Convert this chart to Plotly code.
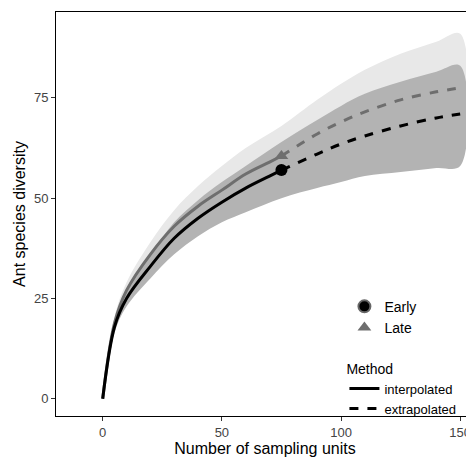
import plotly.graph_objects as go

x_int = [0, 5, 10, 20, 30, 40, 50, 60, 70, 75]
x_ext = [75, 90, 100, 110, 125, 140, 150]
early_int = [0, 18, 25, 33, 40, 45, 49, 52.5, 55.5, 57]
early_ext = [57, 61, 63.5, 65.5, 68, 70, 71]
late_int = [0, 19, 27, 36, 43, 48, 52, 56, 59, 60.5]
late_ext = [60.5, 66, 69, 71.5, 74.5, 76.5, 77.5]
x_band = [0, 5, 10, 20, 30, 40, 50, 60, 75, 90, 100, 110, 125, 140, 150]
early_lo = [0, 16.5, 23, 30, 36, 40.5, 44, 46.5, 50, 52.5, 54, 55.5, 56.5, 57.5, 58]
early_hi = [0, 19.5, 27, 36, 44, 49.5, 54, 58, 64, 69.5, 73, 76, 79, 81.5, 83]
late_lo = [0, 17.5, 25, 33, 39.5, 44, 47.5, 50.5, 54, 57, 59, 60.5, 62, 63.5, 64]
late_hi = [0, 20.5, 29, 39, 47, 53, 58, 62.5, 68, 74.5, 78.5, 82, 86, 89, 91]

fig = go.Figure()
def band(lo, hi, color):
    fig.add_trace(go.Scatter(x=x_band + x_band[::-1], y=hi + lo[::-1], fill="toself",
                             fillcolor=color, line=dict(width=0, shape="spline"), showlegend=False, hoverinfo="skip"))
band(late_lo, late_hi, "#e8e8e8")
band(early_lo, early_hi, "#b3b3b3")
for name, yi, ye, col, sym in [("Late", late_int, late_ext, "#6e6e6e", "triangle-up"),
                               ("Early", early_int, early_ext, "black", "circle")]:
    fig.add_trace(go.Scatter(x=x_int, y=yi, mode="lines", line=dict(color=col, width=3, shape="spline"), showlegend=False))
    fig.add_trace(go.Scatter(x=x_ext, y=ye, mode="lines", line=dict(color=col, width=3, dash="dash", shape="spline"), showlegend=False))
    fig.add_trace(go.Scatter(x=[75], y=[yi[-1]], mode="markers", marker=dict(color=col, size=12, symbol=sym), showlegend=False))

fig.add_trace(go.Scatter(x=[None], y=[None], mode="markers", name="Early", legend="legend",
                         marker=dict(color="black", size=11, symbol="circle", line=dict(color="#666", width=1))))
fig.add_trace(go.Scatter(x=[None], y=[None], mode="markers", name="Late", legend="legend",
                         marker=dict(color="#6e6e6e", size=11, symbol="triangle-up")))
fig.add_trace(go.Scatter(x=[None], y=[None], mode="lines", name="interpolated", legend="legend2",
                         line=dict(color="black", width=3)))
fig.add_trace(go.Scatter(x=[None], y=[None], mode="lines", name="extrapolated", legend="legend2",
                         line=dict(color="black", width=3, dash="dash")))

axis = dict(showgrid=False, zeroline=False, showline=True, linecolor="black", linewidth=1, mirror=True,
            ticks="outside", ticklen=4, tickcolor="#333", tickfont=dict(size=13, color="#444"))
fig.update_layout(
    width=474, height=464, margin=dict(l=48, r=8, t=4, b=56),
    plot_bgcolor="white", paper_bgcolor="white",
    font=dict(family="Liberation Sans, Arial", color="black"),
    xaxis=dict(axis, range=[-19.6, 155.8], tickvals=[0, 50, 100, 150],
               title=dict(text="Number of sampling units", font=dict(size=16), standoff=2)),
    yaxis=dict(axis, range=[-4.3, 96.4], tickvals=[0, 25, 50, 75],
               title=dict(text="Ant species diversity", font=dict(size=16), standoff=4)),
    legend=dict(x=0.69, y=0.31, xanchor="left", yanchor="top", bgcolor="rgba(0,0,0,0)",
                font=dict(size=14), itemsizing="constant"),
    legend2=dict(x=0.69, y=0.15, xanchor="left", yanchor="top", bgcolor="rgba(0,0,0,0)",
                 title=dict(text="Method", font=dict(size=14)), font=dict(size=13)),
)
fig.write_html("out.html")
